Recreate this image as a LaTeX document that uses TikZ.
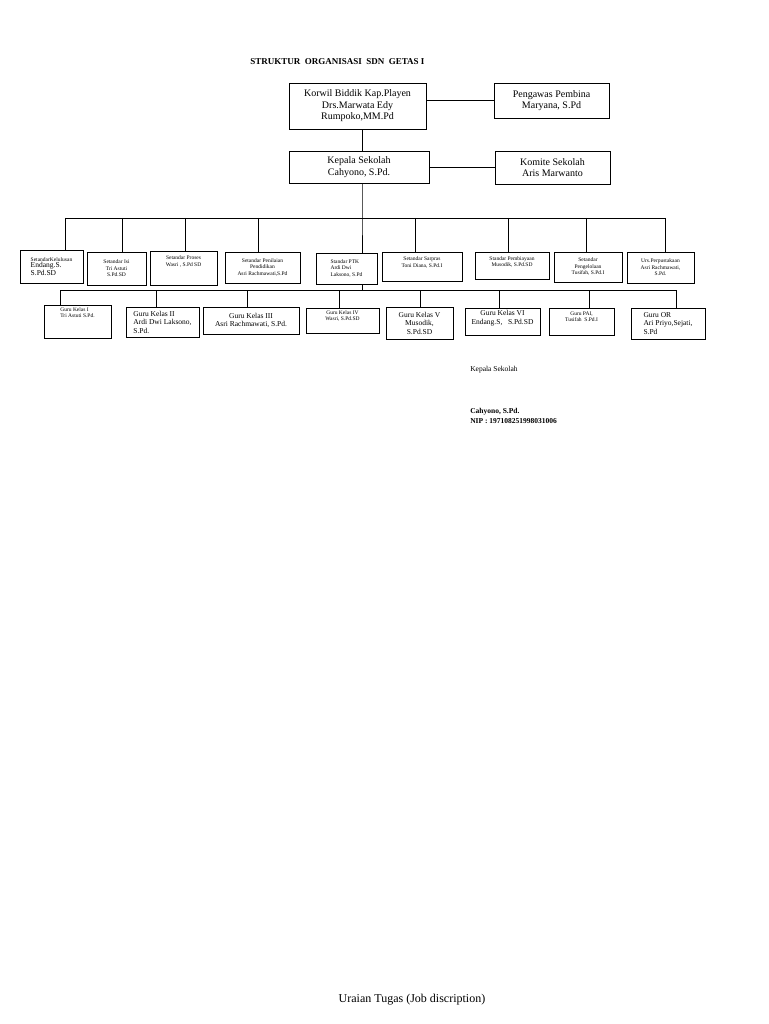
\documentclass[tikz,border=0pt]{standalone}
\usepackage{fontspec}
\setmainfont{Liberation Serif}
\usetikzlibrary{positioning}
\begin{document}
\begin{tikzpicture}[x=1pt,y=-1pt, semithick,
    every node/.style={inner sep=0pt},
    kotak/.style={draw, thick, minimum width=#1, anchor=north west},
    kotak/.default=60pt,
    kecil/.style={font=\fontsize{5.5}{6.5}\selectfont, align=center},
    sedang/.style={font=\fontsize{7.5}{8.5}\selectfont, align=center},
    besar/.style={font=\fontsize{10}{11.5}\selectfont, align=center}
    ]
\useasboundingbox (0,0) rectangle (768,1024);
\node[font=\bfseries\fontsize{9}{10}\selectfont, anchor=west] (judul) at (250,62) {STRUKTUR\ \ ORGANISASI\ \ SDN\ \ GETAS I};
% pimpinan
\node[draw, thick, besar, minimum width=137pt, minimum height=46pt] (korwil) at (357.5,106) {Korwil Biddik Kap.Playen\\Drs.Marwata Edy\\Rumpoko,MM.Pd};
\node[draw, thick, besar, minimum width=115pt, minimum height=35pt] (pengawas) at (551.5,100.5) {Pengawas Pembina\\Maryana, S.Pd};
\node[draw, thick, besar, minimum width=140pt, minimum height=32pt] (kepsek) at (359,167) {Kepala Sekolah\\Cahyono, S.Pd.};
\node[draw, thick, besar, minimum width=115pt, minimum height=33pt] (komite) at (552.5,167.5) {Komite Sekolah\\Aris Marwanto};
\draw (korwil.east |- pengawas.west) -- (pengawas.west);
\draw (kepsek.east |- komite.west) -- (komite.west);
\draw (korwil.south -| 362,0) -- (kepsek.north -| 362,0);
% baris standar
\node[draw, thick, kecil, minimum width=63pt, minimum height=33pt, align=left] (s1) at (51.5,266.5) {SetandarKelulusan\\{\fontsize{7.5}{8.5}\selectfont Endang.S.}\\{\fontsize{7.5}{8.5}\selectfont S.Pd.SD}};
\node[draw, thick, kecil, minimum width=59pt, minimum height=33pt] (s2) at (116.5,268.5) {Setandar Isi\\Tri Astuti\\S.Pd.SD};
\node[draw, thick, kecil, minimum width=67pt, minimum height=34pt, text depth=14pt] (s3) at (183.5,268) {Setandar Proses\\Wasri , S.Pd SD};
\node[draw, thick, kecil, minimum width=75pt, minimum height=31pt] (s4) at (262.5,267.5) {Setandar Penilaian\\Pendidikan\\Asri Rachmawati,S.Pd};
\node[draw, thick, kecil, minimum width=61pt, minimum height=31pt, align=left] (s5) at (346.5,268.5) {Standar PTK\\Ardi Dwi\\Laksono, S.Pd};
\node[draw, thick, kecil, minimum width=80pt, minimum height=29pt, text depth=9pt] (s6) at (422,266.5) {Setandar Sarpras\\Toni Diana, S.Pd.I};
\node[draw, thick, kecil, minimum width=74pt, minimum height=27pt, text depth=8pt] (s7) at (512,265.5) {Standar Pembiayaan\\Musodik, S.Pd.SD};
\node[draw, thick, kecil, minimum width=68pt, minimum height=30pt] (s8) at (588,267) {Setandar\\Pengelolaan\\Tusifah, S.Pd.I};
\node[draw, thick, kecil, minimum width=67pt, minimum height=31pt] (s9) at (660.5,267.5) {Urs.Perpustakaan\\Asri Rachmawati,\\S.Pd.};
\coordinate (bus1) at (362,218);
\draw (kepsek.south -| bus1) -- (bus1) -- (s5.north -| bus1);
\draw (65,218) -- (665,218);
\foreach \n/\x in {s1/65,s2/122,s3/185,s4/258,s6/415,s7/508,s8/586,s9/665}
  \draw (\x,218) -- (\n.north -| \x,0);
% baris guru
\node[draw, thick, kecil, minimum width=67pt, minimum height=33pt, align=left, text depth=18pt] (g1) at (77.5,321.5) {Guru Kelas I\\Tri Astuti S.Pd.};
\node[draw, thick, sedang, minimum width=73pt, minimum height=30pt, align=left] (g2) at (162.5,322) {Guru Kelas II\\Ardi Dwi Laksono,\\S.Pd.};
\node[draw, thick, sedang, minimum width=96pt, minimum height=27pt] (g3) at (251,320.5) {Guru Kelas III\\Asri Rachmawati, S.Pd.};
\node[draw, thick, kecil, minimum width=73pt, minimum height=25pt, text depth=10pt] (g4) at (342.5,320.5) {Guru Kelas IV\\Wasri, S.Pd.SD};
\node[draw, thick, sedang, minimum width=67pt, minimum height=32pt] (g5) at (419.5,323) {Guru Kelas V\\Musodik,\\S.Pd.SD};
\node[draw, thick, sedang, minimum width=75pt, minimum height=27pt, text depth=8pt] (g6) at (502.5,321.5) {Guru Kelas VI\\Endang.S,\ \ \ S.Pd.SD};
\node[draw, thick, kecil, minimum width=65pt, minimum height=27pt, text depth=10pt] (g7) at (581.5,321.5) {Guru PAI,\\Tusifah\ \ S.Pd.I};
\node[draw, thick, sedang, minimum width=74pt, minimum height=31pt, align=left] (g8) at (668,323.5) {Guru OR\\Ari Priyo,Sejati,\\S.Pd};
\coordinate (bus2) at (362,290);
\draw (s5.south -| bus2) -- (bus2);
\draw (60,290) -- (676,290);
\foreach \n/\x in {g1/60,g2/156,g3/247,g4/339,g5/420,g6/499,g7/589,g8/676}
  \draw (\x,290) -- (\n.north -| \x,0);
% tanda tangan
\node[sedang, anchor=west] (ttd) at (470,370) {Kepala Sekolah};
\node[font=\bfseries\fontsize{7.5}{10}\selectfont, anchor=north west, align=left] (nama) at (470,408) {Cahyono, S.Pd.\\NIP : 197108251998031006};
\node[font=\fontsize{12}{14}\selectfont] (uraian) at (412,1000) {Uraian Tugas (Job discription)};
\end{tikzpicture}
\end{document}
